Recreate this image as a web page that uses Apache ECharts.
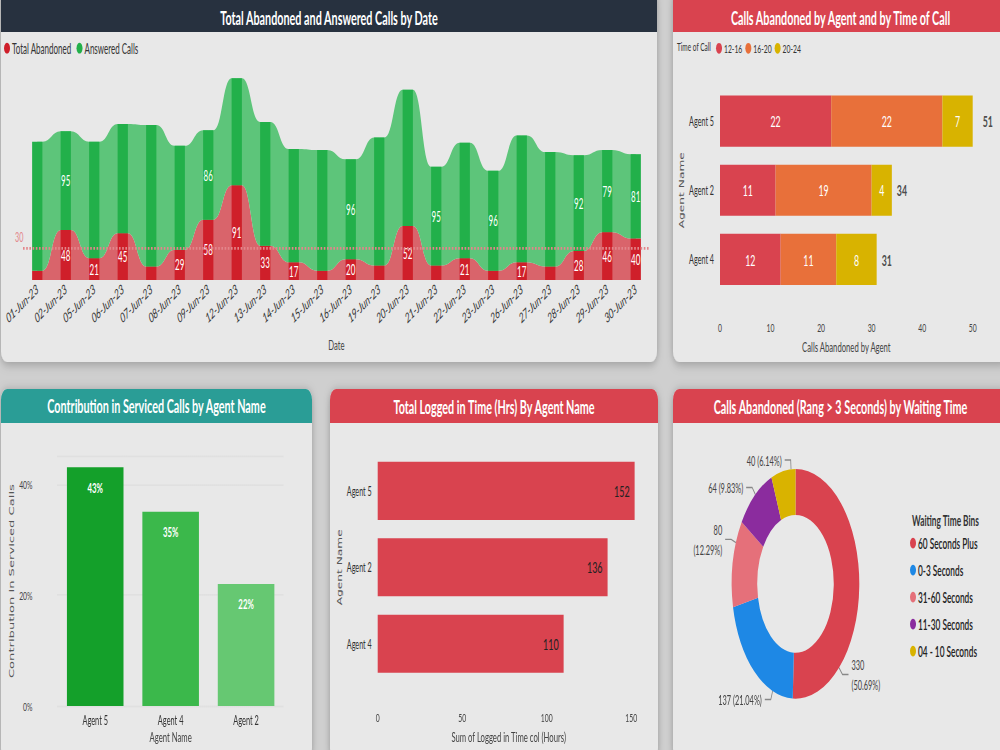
<!DOCTYPE html>
<html><head><meta charset="utf-8">
<script src="https://cdn.jsdelivr.net/npm/echarts@6/dist/echarts.min.js"></script>
<style>
html,body{margin:0;padding:0;background:#cfcfcf;overflow:hidden;}
#wrap{width:1000px;height:750px;overflow:hidden;position:relative;}
#chart{position:absolute;left:0;top:0;width:1000px;transform:scale(1,1.8);transform-origin:0 0;}
</style></head><body><div id="wrap"><div id="chart"></div></div>
<script>
// ---------------- data ----------------
const dates = ['01-Jun-23','02-Jun-23','05-Jun-23','06-Jun-23','07-Jun-23','08-Jun-23','09-Jun-23','12-Jun-23','13-Jun-23','14-Jun-23','15-Jun-23','16-Jun-23','19-Jun-23','20-Jun-23','21-Jun-23','22-Jun-23','23-Jun-23','26-Jun-23','27-Jun-23','28-Jun-23','29-Jun-23','30-Jun-23'];
const abandoned = [9,48,21,45,13,29,58,91,33,17,9,20,14,52,14,21,9,17,13,28,46,40];
const answered  = [124,95,112,105,136,100,86,103,119,109,116,96,123,131,95,111,96,122,110,92,79,81];
const answeredLabelDates = ['02-Jun-23','09-Jun-23','16-Jun-23','21-Jun-23','23-Jun-23','28-Jun-23','29-Jun-23','30-Jun-23'];
const refLineValue = 30;

const agentsB = ['Agent 5','Agent 2','Agent 4'];
const timeBins = ['12-16','16-20','20-24'];
const calls1216 = [22,11,12];
const calls1620 = [22,19,11];
const calls2024 = [7,4,8];

const agentsC = ['Agent 5','Agent 4','Agent 2'];
const contribution = [43,35,22];

const agentsD = ['Agent 5','Agent 2','Agent 4'];
const loggedHours = [152,136,110];

const waitBins = ['60 Seconds Plus','0-3 Seconds','31-60 Seconds','11-30 Seconds','04 - 10 Seconds'];
const waitCalls = [330,137,80,64,40];

// ---------------- style / layout ----------------
const S = 1.8;                 // reference is stretched vertically
const H = 750 / S;
const Y = v => v / S;
const FONT = "Lato, 'Open Sans', sans-serif";
const WIDE = "'DejaVu Sans', 'Liberation Sans', sans-serif";
const RED_BAR = '#cf1f2a', RED_RIB = '#d9646b';
const GREEN_BAR = '#22b04a', GREEN_RIB = '#5dc57a';
const B_COLORS = ['#d9434f','#e8703a','#d8b300'];
const C_COLORS = ['#14a02a','#3bb84b','#66c872'];
const E_COLORS = ['#d9434f','#1e88e5','#e5707a','#8b2c9e','#d9b300'];
const PIE_CX = 795.5, PIE_CY = Y(583.8), PIE_R = 63.8;
const LABEL_ANGLE = [137, 201, 291, 321, 356];
const LABEL_WRAP = [true, false, true, false, false];

const el = document.getElementById('chart');
el.style.height = H + 'px';
const chart = echarts.init(el, null, {renderer: 'svg', width: 1000, height: H});

function panel(x, y, w, h, hh, color, title, ty) {
  return [
    {type:'rect', z:0, shape:{x:x, y:y, width:w, height:h, r:6},
     style:{fill:'#e8e8e8', shadowBlur:6, shadowColor:'rgba(0,0,0,0.28)', shadowOffsetY:1}},
    {type:'rect', z:1, shape:{x:x, y:y, width:w, height:hh, r:[6,6,0,0]}, style:{fill:color}},
    {type:'text', z:3, x:x + w/2, y:ty,
     style:{text:title, fill:'#fff', fontSize:10.8, fontWeight:'bold', fontFamily:FONT,
            align:'center', verticalAlign:'middle', textAlign:'center', textVerticalAlign:'middle'}}
  ];
}
function txt(x, y, text, size, weight, color, align, family) {
  return {type:'text', z:3, x:x, y:y, style:{text:text, fill:color, fontSize:size, fontWeight:weight,
    fontFamily:family || FONT, align:align, verticalAlign:'middle', textAlign:align, textVerticalAlign:'middle'}};
}

const graphics = [].concat(
  panel(1, -6, 656, Y(362) + 6, Y(32) + 6, '#27313f', 'Total Abandoned and Answered Calls by Date', Y(17)),
  panel(673, -6, 335, Y(362) + 6, Y(32) + 6, '#d9434f', 'Calls Abandoned by Agent and by Time of Call', Y(17)),
  panel(1, Y(389), 311, Y(370), Y(34), '#2a9d96', 'Contribution in Serviced Calls by Agent Name', Y(405)),
  panel(330, Y(389), 328, Y(370), Y(34), '#d9434f', 'Total Logged in Time (Hrs) By Agent Name', Y(406)),
  panel(673, Y(389), 335, Y(370), Y(34), '#d9434f', 'Calls Abandoned (Rang > 3 Seconds) by Waiting Time', Y(406)),
  [txt(677, Y(47), 'Time of Call', 6.5, 'normal', '#333', 'left'),
   txt(912, Y(520), 'Waiting Time Bins', 8.3, 'bold', '#333', 'left')]
);

const ribbonData = dates.slice(0, -1).map((d, i) =>
  [i, abandoned[i], abandoned[i] + answered[i], abandoned[i + 1], abandoned[i + 1] + answered[i + 1]]);
const totalsB = agentsB.map((a, i) => calls1216[i] + calls1620[i] + calls2024[i]);
const waitTotal = waitCalls.reduce((s, v) => s + v, 0);

const axisNameStyle = {fontFamily: FONT, fontSize: 7.7, color: '#444'};
const wideNameStyle = {fontFamily: WIDE, fontSize: 6.8, color: '#555'};

const option = {
  backgroundColor: '#cfcfcf',
  animation: false,
  textStyle: {fontFamily: FONT},
  graphic: {elements: graphics},
  legend: [
    {data: ['Total Abandoned', 'Answered Calls'], left: 4, top: Y(41), icon: 'circle',
     itemWidth: 6, itemHeight: 6, itemGap: 5, padding: 0,
     textStyle: {fontSize: 8, color: '#333', padding: [0, 0, 0, -3]}},
    {data: timeBins, left: 716, top: Y(42), icon: 'circle', itemWidth: 6, itemHeight: 6, itemGap: 3, padding: 0,
     textStyle: {fontSize: 6.8, color: '#333', padding: [0, 0, 0, -3]}},
    {data: waitBins, orient: 'vertical', left: 910, top: Y(535), icon: 'circle', itemWidth: 6, itemHeight: 6,
     itemGap: 6, padding: 0, textStyle: {fontSize: 8.3, fontWeight: 600, color: '#222', lineHeight: 9, padding: [0, 0, 0, -3]}}
  ],
  grid: [
    {left: 23, right: 350, top: Y(72), height: Y(208)},
    {left: 720, right: 27.3, top: Y(86.5), height: Y(207.5)},
    {left: 57.5, right: 716.2, top: Y(456.2), height: Y(249.8)},
    {left: 377.7, right: 360.3, top: Y(452.6), height: Y(229.4)}
  ],
  xAxis: [
    {gridIndex: 0, type: 'category', data: dates, axisLine: {show: false}, axisTick: {show: false},
     axisLabel: {interval: 0, rotate: 30, fontSize: 7.8, color: '#333', margin: 4},
     name: 'Date', nameLocation: 'middle', nameGap: 32, nameTextStyle: axisNameStyle},
    {gridIndex: 1, type: 'value', min: 0, max: 50, interval: 10, splitLine: {show: false},
     axisLine: {show: false}, axisTick: {show: false},
     axisLabel: {fontSize: 6.8, color: '#444', margin: 15},
     name: 'Calls Abandoned by Agent', nameLocation: 'middle', nameGap: 25, nameTextStyle: axisNameStyle},
    {gridIndex: 2, type: 'category', data: agentsC, axisLine: {show: false}, axisTick: {show: false},
     axisLabel: {fontSize: 7.4, color: '#333', margin: 4},
     name: 'Agent Name', nameLocation: 'middle', nameGap: 13, nameTextStyle: axisNameStyle},
    {gridIndex: 3, type: 'value', min: 0, max: 155, interval: 50, splitLine: {show: false},
     axisLine: {show: false}, axisTick: {show: false},
     axisLabel: {fontSize: 6.8, color: '#444', margin: 16, showMaxLabel: false},
     name: 'Sum of Logged in Time col (Hours)', nameLocation: 'middle', nameGap: 26, nameTextStyle: axisNameStyle}
  ],
  yAxis: [
    {gridIndex: 0, type: 'value', min: 0, max: 200, show: false},
    {gridIndex: 1, type: 'category', data: agentsB, inverse: true, axisLine: {show: false}, axisTick: {show: false},
     axisLabel: {fontSize: 7.2, color: '#333', margin: 6},
     name: 'Agent Name', nameLocation: 'middle', nameRotate: 90, nameGap: 31, nameTextStyle: wideNameStyle},
    {gridIndex: 2, type: 'value', min: 0, max: 45, interval: 20, axisLine: {show: false}, axisTick: {show: false},
     splitLine: {lineStyle: {color: '#d9d9d9', type: 'dotted'}},
     axisLabel: {fontSize: 6.8, color: '#444', margin: 25, formatter: '{value}%', showMaxLabel: false},
     name: 'Contribution in Serviced Calls', nameLocation: 'middle', nameRotate: 90, nameGap: 42,
     nameTextStyle: {fontFamily: WIDE, fontSize: 7.3, color: '#555'}},
    {gridIndex: 3, type: 'category', data: agentsD, inverse: true, axisLine: {show: false}, axisTick: {show: false},
     axisLabel: {fontSize: 7.2, color: '#333', margin: 6},
     name: 'Agent Name', nameLocation: 'middle', nameRotate: 90, nameGap: 31, nameTextStyle: wideNameStyle}
  ],
  series: [
    {type: 'custom', name: 'ribbons', xAxisIndex: 0, yAxisIndex: 0, z: 1, silent: true,
     data: ribbonData, encode: {x: 0, y: 2},
     renderItem: function (params, api) {
       const i = api.value(0);
       const a0 = api.value(1), t0 = api.value(2), a1 = api.value(3), t1 = api.value(4);
       const c0 = api.coord([i, 0]), c1 = api.coord([i + 1, 0]);
       const hw = api.size([1, 0])[0] * 0.18;
       const x0 = c0[0], x1 = c0[0] + hw, x2 = c1[0] - hw, x3 = c1[0], xm = (x1 + x2) / 2;
       function band(l0, u0, l1, u1, color) {
         const yl0 = api.coord([i, l0])[1], yu0 = api.coord([i, u0])[1];
         const yl1 = api.coord([i + 1, l1])[1], yu1 = api.coord([i + 1, u1])[1];
         const d = 'M' + x0 + ' ' + yu0 + 'L' + x1 + ' ' + yu0 +
           'C' + xm + ' ' + yu0 + ' ' + xm + ' ' + yu1 + ' ' + x2 + ' ' + yu1 +
           'L' + x3 + ' ' + yu1 + 'L' + x3 + ' ' + yl1 + 'L' + x2 + ' ' + yl1 +
           'C' + xm + ' ' + yl1 + ' ' + xm + ' ' + yl0 + ' ' + x1 + ' ' + yl0 +
           'L' + x0 + ' ' + yl0 + 'Z';
         return {type: 'path', shape: {pathData: d}, style: {fill: color}};
       }
       return {type: 'group', children: [band(0, a0, 0, a1, RED_RIB), band(a0, t0, a1, t1, GREEN_RIB)]};
     }},
    {type: 'bar', name: 'Total Abandoned', xAxisIndex: 0, yAxisIndex: 0, stack: 'calls', barWidth: '36%', z: 3,
     data: abandoned, itemStyle: {color: RED_BAR},
     label: {show: true, position: 'inside', color: '#fff', fontSize: 8,
             formatter: p => (p.value >= 15 ? String(p.value) : '')},
     markLine: {silent: true, symbol: 'none', data: [{yAxis: refLineValue}],
       lineStyle: {type: 'dotted', color: '#e3858b', width: 1.6},
       label: {show: true, position: 'insideStartTop', formatter: String(refLineValue), color: '#e3858b',
               fontSize: 7.2, distance: [-8, 3]}}},
    {type: 'bar', name: 'Answered Calls', xAxisIndex: 0, yAxisIndex: 0, stack: 'calls', barWidth: '36%', z: 3,
     data: answered, itemStyle: {color: GREEN_BAR},
     label: {show: true, position: 'inside', color: '#fff', fontSize: 8,
             formatter: p => (answeredLabelDates.indexOf(p.name) >= 0 ? String(p.value) : '')}},
    {type: 'bar', name: timeBins[0], xAxisIndex: 1, yAxisIndex: 1, stack: 'b', barWidth: '74%', data: calls1216,
     itemStyle: {color: B_COLORS[0]}, label: {show: true, position: 'inside', color: '#fff', fontSize: 8.8}},
    {type: 'bar', name: timeBins[1], xAxisIndex: 1, yAxisIndex: 1, stack: 'b', barWidth: '74%', data: calls1620,
     itemStyle: {color: B_COLORS[1]}, label: {show: true, position: 'inside', color: '#fff', fontSize: 8.8}},
    {type: 'bar', name: timeBins[2], xAxisIndex: 1, yAxisIndex: 1, stack: 'b', barWidth: '74%', data: calls2024,
     itemStyle: {color: B_COLORS[2]}, label: {show: true, position: 'inside', color: '#fff', fontSize: 8.8}},
    {type: 'scatter', name: 'Total', xAxisIndex: 1, yAxisIndex: 1, symbolSize: 0, silent: true, clip: false,
     data: totalsB.map((t, i) => [t, agentsB[i]]),
     label: {show: true, position: 'right', distance: 5, color: '#222', fontSize: 8.8, fontWeight: 'bold',
             formatter: p => String(p.value[0])}},
    {type: 'bar', name: 'Contribution', xAxisIndex: 2, yAxisIndex: 2, barWidth: '75%',
     data: contribution.map((v, i) => ({value: v, itemStyle: {color: C_COLORS[i]}})),
     label: {show: true, position: 'insideTop', distance: 7, color: '#fff', fontSize: 7.8, fontWeight: 'bold',
             formatter: '{c}%'}},
    {type: 'bar', name: 'Logged', xAxisIndex: 3, yAxisIndex: 3, barWidth: '76%', data: loggedHours,
     itemStyle: {color: '#d9434f'},
     label: {show: true, position: 'insideRight', distance: 5, color: '#222', fontSize: 9}},
    {type: 'pie', name: 'Waiting', center: [PIE_CX, PIE_CY], radius: [PIE_R * 0.6, PIE_R],
     startAngle: 90, clockwise: true, avoidLabelOverlap: false,
     data: waitBins.map((n, i) => ({name: n, value: waitCalls[i], itemStyle: {color: E_COLORS[i]}})),
     label: {show: true, fontSize: 7.4, color: '#444', lineHeight: 11,
       formatter: p => {
         const pct = (p.value / waitTotal * 100).toFixed(2);
         return LABEL_WRAP[p.dataIndex] ? p.value + '\n(' + pct + '%)' : p.value + ' (' + pct + '%)';
       }},
     labelLine: {show: true, lineStyle: {color: '#888', width: 0.8}},
     labelLayout: function (p) {
       const a = LABEL_ANGLE[p.dataIndex] * Math.PI / 180;
       const sx = Math.sin(a), cy = -Math.cos(a);
       const dir = sx >= 0 ? 1 : -1;
       const p1 = [PIE_CX + PIE_R * sx, PIE_CY + PIE_R * cy];
       const p2 = [PIE_CX + PIE_R * 1.08 * sx, PIE_CY + PIE_R * 1.08 * cy];
       const p3 = [p2[0] + 6 * dir, p2[1]];
       return {x: p3[0] + 3 * dir, y: p3[1], align: dir > 0 ? 'left' : 'right', verticalAlign: 'middle',
               labelLinePoints: [p1, p2, p3]};
     }}
  ]
};
chart.setOption(option);
</script></body></html>
